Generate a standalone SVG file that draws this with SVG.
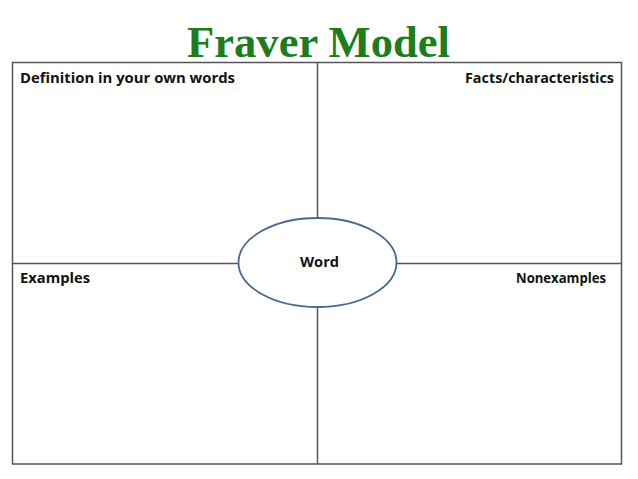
<svg xmlns="http://www.w3.org/2000/svg" width="638" height="479" viewBox="0 0 638 479">
<style>
.ln{stroke:#555;stroke-width:1.5;fill:none}
.lbl{font-family:"Open Sans","Liberation Sans",sans-serif;font-weight:bold;font-size:15px;fill:#111}
</style>
<rect width="638" height="479" fill="#fff"/>
<text id="title" x="187" y="57" font-family="Liberation Serif,serif" font-weight="bold" font-size="44" fill="#1b7d1b" textLength="263" lengthAdjust="spacingAndGlyphs">Fraver Model</text>
<g id="connectors">
<rect class="ln" x="12.5" y="62.5" width="609" height="401.5"/>
<line class="ln" x1="317.5" y1="62.5" x2="317.5" y2="218"/>
<line class="ln" x1="317.5" y1="307" x2="317.5" y2="464"/>
<line class="ln" x1="12.5" y1="263.5" x2="238.5" y2="263.5"/>
<line class="ln" x1="396.5" y1="263.5" x2="621.5" y2="263.5"/>
</g>
<g id="q1"><text class="lbl" x="20" y="83" textLength="215" lengthAdjust="spacingAndGlyphs">Definition in your own words</text></g>
<g id="q2"><text class="lbl" x="614" y="83" text-anchor="end" textLength="149" lengthAdjust="spacingAndGlyphs">Facts/characteristics</text></g>
<g id="q3"><text class="lbl" x="20" y="283" textLength="70" lengthAdjust="spacingAndGlyphs">Examples</text></g>
<g id="q4"><text class="lbl" x="606" y="283" text-anchor="end" textLength="90" lengthAdjust="spacingAndGlyphs">Nonexamples</text></g>
<g id="word">
<ellipse cx="317.5" cy="262.5" rx="79" ry="44.5" fill="#fff" stroke="#4a6890" stroke-width="1.8"/>
<text class="lbl" x="319.5" y="267" text-anchor="middle" textLength="39" lengthAdjust="spacingAndGlyphs">Word</text>
</g>
</svg>
